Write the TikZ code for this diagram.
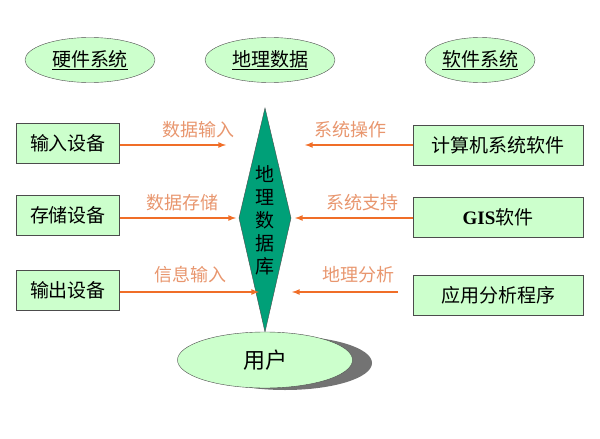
\documentclass[tikz,border=0pt]{standalone}
\usepackage{fontspec}
\setmainfont{Liberation Serif}
\newfontfamily\cjk{Noto Sans CJK SC}
\usetikzlibrary{shapes.geometric}
\definecolor{lgreen}{RGB}{204,255,204}
\definecolor{dgreen}{RGB}{0,160,120}
\definecolor{arr}{RGB}{240,110,40}
\definecolor{lab}{RGB}{232,150,110}
\begin{document}
\begin{tikzpicture}[x=1pt,y=-1pt,
  ell/.style={ellipse,draw=black!70,fill=lgreen,inner sep=0,font=\cjk\fontsize{19}{19}\selectfont},
  box/.style={rectangle,draw=black!70,fill=lgreen,inner sep=0,font=\cjk\fontsize{19}{19}\selectfont},
  flow/.style={draw=arr,line width=1.6pt,-latex},
  lbl/.style={text=lab,font=\cjk\fontsize{18}{18}\selectfont,inner sep=0}]
\useasboundingbox (0,0) rectangle (600,439);
\node[ell,minimum width=130,minimum height=45] (hw) at (90,60) {\underline{硬件系统}};
\node[ell,minimum width=130,minimum height=45] (gd) at (270,60) {\underline{地理数据}};
\node[ell,minimum width=110,minimum height=45] (sw) at (480,60) {\underline{软件系统}};
\coordinate (dt) at (265,108); \coordinate (db0) at (265,332);
\coordinate (dl) at (239,218); \coordinate (dr) at (291,218);
\fill[dgreen] (dt) -- (dr) -- (db0) -- (dl) -- cycle;
\draw[black!70] (dt) -- (dr) -- (db0) -- (dl) -- cycle;
\node[font=\cjk\fontsize{19}{23}\selectfont,align=center,inner sep=0] (db) at (265,220) {地\\理\\数\\据\\库};
\fill[black!55] (285,363) ellipse (87 and 27);
\node[ell,minimum width=175,minimum height=56,font=\cjk\fontsize{22}{22}\selectfont] (user) at (265,360) {用户};
\node[box,minimum width=103,minimum height=40] (in) at (68,143) {输入设备};
\node[box,minimum width=103,minimum height=40] (st) at (68,215) {存储设备};
\node[box,minimum width=103,minimum height=40] (out) at (68,290) {输出设备};
\node[box,minimum width=170,minimum height=40] (cs) at (498,145) {计算机系统软件};
\node[box,minimum width=170,minimum height=40] (gis) at (498,217) {{\rmfamily\bfseries GIS}软件};
\node[box,minimum width=170,minimum height=40] (app) at (498,295) {应用分析程序};
\coordinate (a1) at (226,145); \coordinate (b1) at (305,145);
\coordinate (a2) at (236,218); \coordinate (b2) at (295,218);
\coordinate (a3) at (259,292); \coordinate (b3) at (292,292);
\draw[flow] (in.east |- a1) -- (a1);
\draw[flow] (st.east |- a2) -- (a2);
\draw[flow] (out.east |- a3) -- (a3);
\draw[flow] (cs.west |- b1) -- (b1);
\draw[flow] (gis.west |- b2) -- (b2);
\coordinate (c3) at (398,292);
\draw[flow] (c3) -- (b3);
\node[lbl] (l1) at (198,130) {数据输入};
\node[lbl] (l2) at (182,203) {数据存储};
\node[lbl] (l3) at (190,275) {信息输入};
\node[lbl] (r1) at (350,130) {系统操作};
\node[lbl] (r2) at (362,203) {系统支持};
\node[lbl] (r3) at (358,275) {地理分析};
\end{tikzpicture}
\end{document}
